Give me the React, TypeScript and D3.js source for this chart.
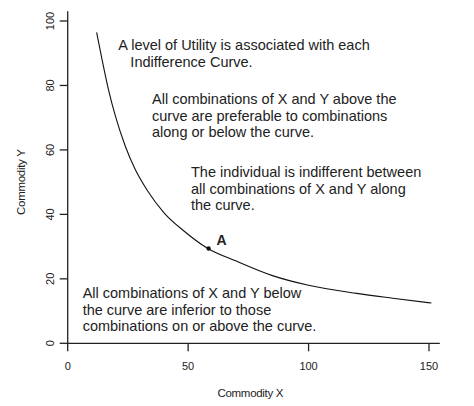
import React from "react";
import * as d3 from "d3";

const curveX = [12, 14, 17, 20, 24, 28, 33, 40, 48, 58, 70, 85, 100, 120, 135, 151];
const curveY = [96.5, 89, 78.5, 70, 61, 54, 47.5, 40.5, 35, 29.5, 25.5, 21, 18, 15.5, 14, 12.5];
const pointA = { x: 58.5, y: 29.4, label: "A" };
const xTicks = [0, 50, 100, 150];
const yTicks = [0, 20, 40, 60, 80, 100];
const xLabel = "Commodity X";
const yLabel = "Commodity Y";
const notes = [
  { x: 21, y: 91, lines: ["A level of Utility is associated with each", "   Indifference Curve."] },
  { x: 35, y: 74.2, lines: ["All combinations of X and Y above the", "curve are preferable to combinations", "along or below the curve."] },
  { x: 51.2, y: 51.6, lines: ["The individual is indifferent between", "all combinations of X and Y along", "the curve."] },
  { x: 6.2, y: 14, lines: ["All combinations of X and Y below", "the curve are inferior to those", "combinations on or above the curve."] },
];

const W = 474, H = 406;
const FONT = "'Liberation Sans', Arial, sans-serif";

export default function App() {
  const x = d3.scaleLinear().domain([0, 150]).range([67.7, 429]);
  const y = d3.scaleLinear().domain([0, 100]).range([343.3, 21]);
  const pts = curveX.map((v, i) => [x(v), y(curveY[i])] as [number, number]);
  const line = d3.line().curve(d3.curveMonotoneX)(pts) || "";
  const tick = 8;
  const ink = "#222";
  return (
    <svg width={W} height={H} style={{ position: "fixed", left: 0, top: 0, background: "#fff" }} fontFamily={FONT}>
      {/* axes */}
      <line x1={x(0)} x2={x(154.5)} y1={y(0)} y2={y(0)} stroke={ink} strokeWidth={1.3} />
      <line x1={x(0)} x2={x(0)} y1={y(0)} y2={y(103)} stroke={ink} strokeWidth={1.3} />
      {xTicks.map((t) => (
        <g key={"x" + t}>
          <line x1={x(t)} x2={x(t)} y1={y(0)} y2={y(0) + tick} stroke={ink} strokeWidth={1.3} />
          <text x={x(t)} y={y(0) + 27} textAnchor="middle" fontSize={11} fill={ink}>{t}</text>
        </g>
      ))}
      {yTicks.map((t) => (
        <g key={"y" + t}>
          <line x1={x(0) - tick} x2={x(0)} y1={y(t)} y2={y(t)} stroke={ink} strokeWidth={1.3} />
          <text transform={`translate(${x(0) - 14},${y(t)}) rotate(-90)`} textAnchor="middle" fontSize={11} fill={ink}>{t}</text>
        </g>
      ))}
      <text x={(x(0) + x(150)) / 2 + 2} y={396.5} textAnchor="middle" fontSize={11.5} fill={ink} letterSpacing={-0.3}>{xLabel}</text>
      <text transform={`translate(25,${(y(0) + y(100)) / 2}) rotate(-90)`} textAnchor="middle" fontSize={11.5} fill={ink} letterSpacing={-0.3}>{yLabel}</text>
      {/* curve */}
      <path d={line} fill="none" stroke="#111" strokeWidth={1.1} />
      <circle cx={x(pointA.x)} cy={y(pointA.y)} r={2.2} fill="#111" />
      <text x={x(pointA.x) + 8} y={y(pointA.y) - 4} fontSize={14} fontWeight="bold" fill={ink}>{pointA.label}</text>
      {/* notes */}
      {notes.map((n, i) => (
        <text key={i} x={x(n.x)} y={y(n.y)} fontSize={14.5} fill={ink} xmlSpace="preserve" style={{ whiteSpace: "pre" }}>
          {n.lines.map((l, j) => (
            <tspan key={j} x={x(n.x)} dy={j === 0 ? 0 : 16.6}>{l}</tspan>
          ))}
        </text>
      ))}
    </svg>
  );
}
